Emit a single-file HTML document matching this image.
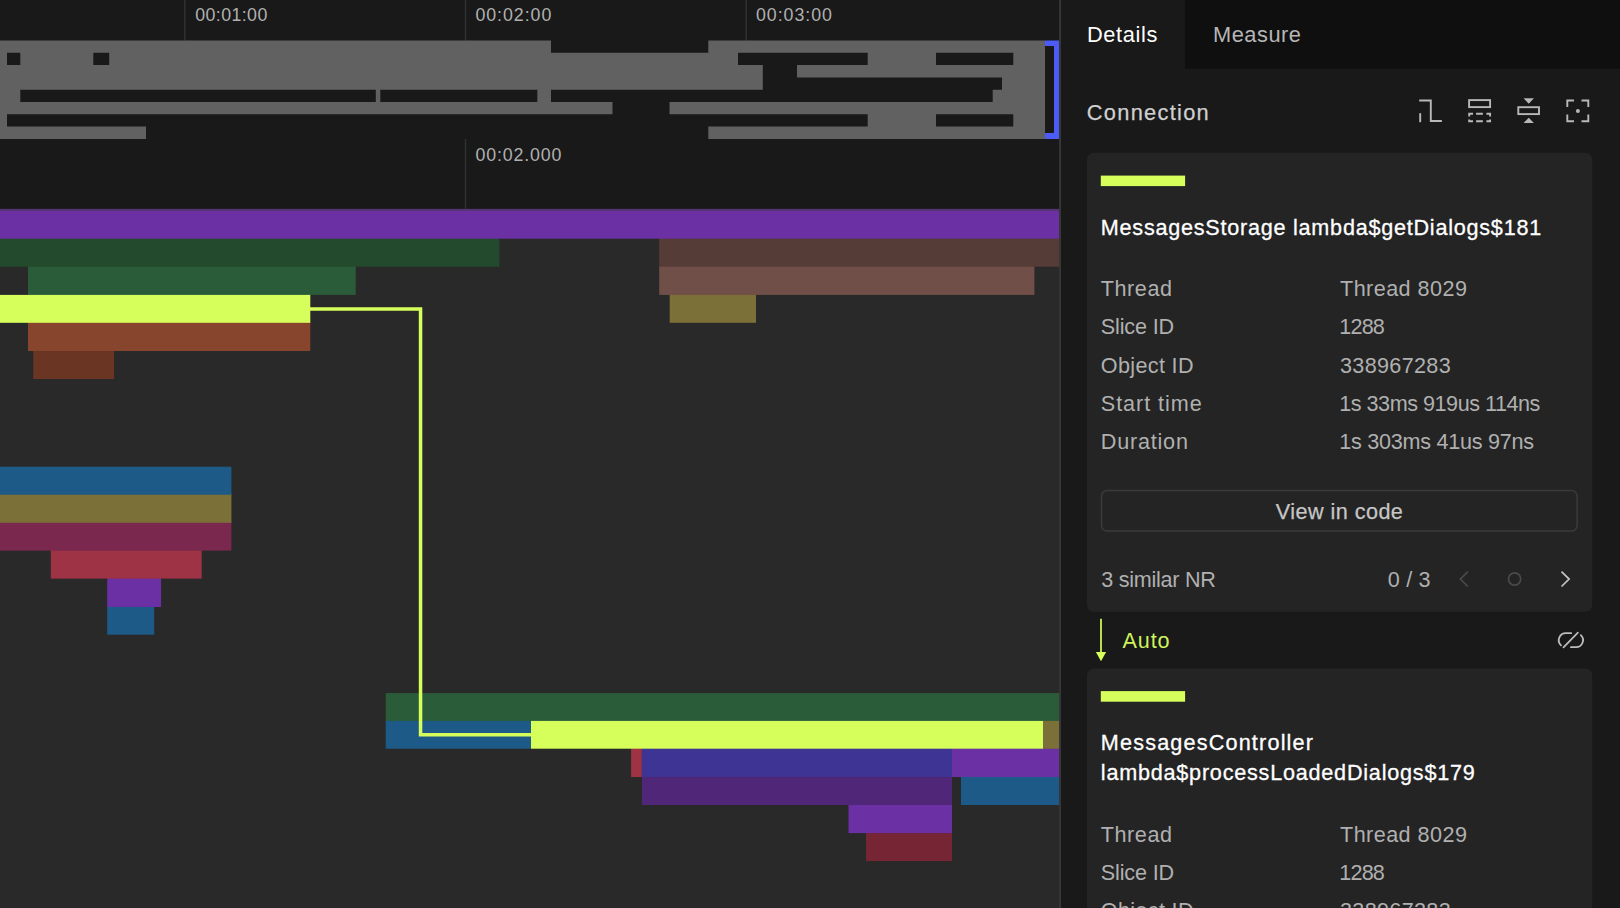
<!DOCTYPE html>
<html lang="en"><head><meta charset="utf-8"><title>Trace viewer</title>
<style>
html,body{margin:0;padding:0;background:#191919}
body{width:1620px;height:908px;overflow:hidden;position:relative;font-family:"Liberation Sans", sans-serif}
.bg{position:absolute;left:0;top:0;display:block}
.tx{position:absolute;white-space:pre;font-weight:400;line-height:30px}
.ic{position:absolute;display:block;overflow:visible}
</style></head><body>
<svg class="bg" width="1620" height="908" viewBox="0 0 1620 908">
<!-- timeline backgrounds -->
<rect x="0.00" y="0.00" width="1059.60" height="208.90" fill="#191919"/>
<rect x="0.00" y="208.90" width="1059.60" height="699.10" fill="#292929"/>
<!-- ruler ticks -->
<rect x="184.10" y="0.00" width="1.40" height="40.50" fill="#323232"/>
<rect x="464.80" y="0.00" width="1.40" height="40.50" fill="#323232"/>
<rect x="745.50" y="0.00" width="1.40" height="40.50" fill="#323232"/>
<rect x="464.80" y="139.00" width="1.40" height="69.90" fill="#323232"/>
<!-- minimap -->
<path d="M0 40.5H551V52.8H0ZM708.3 40.5H1045V52.8H708.3ZM0 52.8H7V65.1H0ZM20.3 52.8H93.3V65.1H20.3ZM109.2 52.8H738V65.1H109.2ZM867.7 52.8H936V65.1H867.7ZM1013.3 52.8H1045V65.1H1013.3ZM0 65.1H762.8V77.4H0ZM797 65.1H1045V77.4H797ZM0 77.4H762.8V89.7H0ZM1002 77.4H1045V89.7H1002ZM0 89.7H20.3V102H0ZM375.8 89.7H380.3V102H375.8ZM537.3 89.7H551V102H537.3ZM992.7 89.7H1045V102H992.7ZM0 102H612.5V114.3H0ZM669.5 102H1045V114.3H669.5ZM0 114.3H7V126.6H0ZM867.7 114.3H936V126.6H867.7ZM1013.3 114.3H1045V126.6H1013.3ZM0 126.6H146V138.9H0ZM708.3 126.6H1045V138.9H708.3Z" fill="#616161"/>
<!-- minimap selection bracket -->
<path d="M1045 40.5H1059.1V139.1H1045V133.1H1054V46.1H1045Z" fill="#4d5bf6"/>
<!-- flame chart -->
<rect x="33.30" y="351.00" width="80.70" height="28.00" fill="#6b3524"/>
<rect x="33.30" y="350.00" width="80.70" height="1.20" fill="#6b3524"/>
<rect x="28.00" y="322.80" width="282.30" height="28.20" fill="#87452d"/>
<rect x="28.00" y="321.80" width="282.30" height="1.20" fill="#87452d"/>
<rect x="0.00" y="294.90" width="310.30" height="27.90" fill="#d6ff5c"/>
<rect x="28.00" y="293.90" width="282.30" height="1.20" fill="#d6ff5c"/>
<rect x="669.70" y="294.90" width="86.30" height="27.90" fill="#7a7038"/>
<rect x="669.70" y="293.90" width="86.30" height="1.20" fill="#7a7038"/>
<rect x="28.00" y="266.70" width="327.70" height="28.20" fill="#2b5c3a"/>
<rect x="28.00" y="265.70" width="327.70" height="1.20" fill="#2b5c3a"/>
<rect x="659.20" y="266.70" width="375.20" height="28.20" fill="#704f48"/>
<rect x="659.20" y="265.70" width="375.20" height="1.20" fill="#704f48"/>
<rect x="0.00" y="238.70" width="499.30" height="28.00" fill="#244a2e"/>
<rect x="0.00" y="237.70" width="499.30" height="1.20" fill="#244a2e"/>
<rect x="659.20" y="238.70" width="400.40" height="28.00" fill="#553c36"/>
<rect x="659.20" y="237.70" width="400.40" height="1.20" fill="#553c36"/>
<rect x="0.00" y="208.90" width="1059.60" height="29.80" fill="#6b30a3"/>
<rect x="107.20" y="607.00" width="47.00" height="27.70" fill="#1d5a87"/>
<rect x="107.20" y="606.00" width="47.00" height="1.20" fill="#1d5a87"/>
<rect x="107.20" y="578.60" width="53.90" height="28.40" fill="#6b30a3"/>
<rect x="107.20" y="577.60" width="53.90" height="1.20" fill="#6b30a3"/>
<rect x="50.80" y="550.60" width="150.90" height="28.00" fill="#9e3345"/>
<rect x="50.80" y="549.60" width="150.90" height="1.20" fill="#9e3345"/>
<rect x="0.00" y="522.80" width="231.40" height="27.80" fill="#7b284e"/>
<rect x="0.00" y="521.80" width="231.40" height="1.20" fill="#7b284e"/>
<rect x="0.00" y="494.70" width="231.40" height="28.10" fill="#7a7038"/>
<rect x="0.00" y="493.70" width="231.40" height="1.20" fill="#7a7038"/>
<rect x="0.00" y="466.70" width="231.40" height="28.00" fill="#1d5a87"/>
<rect x="866.00" y="833.10" width="86.00" height="28.00" fill="#752534"/>
<rect x="866.00" y="832.10" width="86.00" height="1.20" fill="#752534"/>
<rect x="848.50" y="805.00" width="103.50" height="28.10" fill="#6b30a3"/>
<rect x="848.50" y="804.00" width="103.50" height="1.20" fill="#6b30a3"/>
<rect x="641.90" y="777.00" width="310.10" height="28.00" fill="#4f2678"/>
<rect x="641.90" y="776.00" width="310.10" height="1.20" fill="#4f2678"/>
<rect x="961.00" y="777.00" width="98.60" height="28.00" fill="#1d5a87"/>
<rect x="961.00" y="776.00" width="98.60" height="1.20" fill="#1d5a87"/>
<rect x="631.10" y="748.70" width="10.80" height="28.30" fill="#9e3345"/>
<rect x="631.10" y="747.70" width="10.80" height="1.20" fill="#9e3345"/>
<rect x="641.90" y="748.70" width="310.10" height="28.30" fill="#3e3494"/>
<rect x="641.90" y="747.70" width="310.10" height="1.20" fill="#3e3494"/>
<rect x="952.00" y="748.70" width="107.60" height="28.30" fill="#6b30a3"/>
<rect x="952.00" y="747.70" width="91.00" height="1.20" fill="#6b30a3"/>
<rect x="1043.00" y="747.70" width="16.60" height="1.20" fill="#6b30a3"/>
<rect x="385.70" y="720.90" width="145.30" height="27.80" fill="#1d5a87"/>
<rect x="385.70" y="719.90" width="145.30" height="1.20" fill="#1d5a87"/>
<rect x="531.00" y="720.90" width="512.00" height="27.80" fill="#d6ff5c"/>
<rect x="531.00" y="719.90" width="512.00" height="1.20" fill="#d6ff5c"/>
<rect x="1043.00" y="720.90" width="16.60" height="27.80" fill="#7a7038"/>
<rect x="1043.00" y="719.90" width="16.60" height="1.20" fill="#7a7038"/>
<rect x="385.70" y="693.10" width="673.90" height="27.80" fill="#2b5c3a"/>
<!-- connection line -->
<path d="M310 309.1 H420.55 V734.8 H531.5" fill="none" stroke="#d6ff5c" stroke-width="3.5"/>
<!-- borders -->
<rect x="0.00" y="208.90" width="1059.60" height="2.00" fill="#3c3c3c" opacity="0.5"/>
<rect x="1059.10" y="0.00" width="1.90" height="908.00" fill="#373737"/>
<!-- details panel -->
<rect x="1061.00" y="0.00" width="559.00" height="908.00" fill="#191919"/>
<rect x="1184.80" y="0.00" width="435.20" height="68.60" fill="#0f0f0f"/>
<rect x="1087" y="152.8" width="505.3" height="458.9" rx="7" fill="#242424"/>
<rect x="1087" y="668.5" width="505.3" height="260" rx="7" fill="#242424"/>
<rect x="1100.80" y="175.60" width="84.30" height="10.50" fill="#d6ff5c"/>
<rect x="1100.80" y="691.10" width="84.30" height="10.60" fill="#d6ff5c"/>
<rect x="1101.5" y="490.6" width="475.6" height="40.5" rx="5.5" fill="none" stroke="#3b3b3b" stroke-width="1.5"/>
</svg>
<svg class="ic" style="left:1410px;top:90px" width="200" height="40" viewBox="1410 90 200 40" fill="none" stroke="#b8b8b8" stroke-width="1.9">
<path d="M1419.2 100.5 H1430.8 V121 H1441.9"/><path d="M1420.2 113.2 V122.2"/>
<rect x="1469.1" y="100.1" width="21" height="7"/>
<path d="M1469.2 116.4 V113.8 H1473 M1486.4 113.8 H1490.1 V116.4 M1469.2 119.5 V121.3 H1473 M1486.4 121.3 H1490.1 V119.5 M1476.1 113.8 H1482.9 M1476.1 121.3 H1482.9"/>
<rect x="1518.3" y="107.2" width="20.7" height="6.9"/>
<path d="M1523.6 98.2 h10.3 l-5.15 5.6z M1523.6 123 h10.3 l-5.15 -5.2z" fill="#b8b8b8" stroke="none"/>
<path d="M1567.3 107 V100.5 H1574 M1581.5 100.5 H1588.3 V107 M1588.3 114.4 V121.2 H1581.5 M1574 121.2 H1567.3 V114.4"/>
<circle cx="1577.9" cy="110.9" r="2" fill="#b8b8b8" stroke="none"/>
</svg>
<svg class="ic" style="left:1450px;top:565px" width="140" height="30" viewBox="1450 565 140 30" fill="none" stroke-width="1.7">
<path d="M1467.9 571.7 L1460.3 579.1 L1467.9 586.5" stroke="#4a4a4a"/>
<circle cx="1514.6" cy="579.0" r="6.1" stroke="#4a4a4a"/>
<path d="M1561.5 571.7 L1569.1 579.1 L1561.5 586.5" stroke="#c4c4c4"/>
</svg>
<svg class="ic" style="left:1090px;top:615px" width="24" height="50" viewBox="1090 615 24 50">
<path d="M1101 618.8 V654" stroke="#d6ff5c" stroke-width="1.7" fill="none"/>
<path d="M1095.9 651.9 H1106.1 L1101 661.3z" fill="#d6ff5c"/>
</svg>
<svg class="ic" style="left:1550px;top:625px" width="44" height="30" viewBox="1550 625 44 30" fill="none" stroke="#bcbcbc" stroke-width="1.8" stroke-linecap="round">
<path d="M1571.2 633.2 H1565.8 A7 7 0 0 0 1561 645.3"/>
<path d="M1570.9 647.2 H1576 A7 7 0 0 0 1580.8 635.1"/>
<path d="M1577.9 632.7 L1563.5 647.3"/>
</svg>
<span class="tx" style="left:195.20px;top:0px;font-size:17.8px;letter-spacing:0.412px;color:#b0b0b0;">00:01:00</span>
<span class="tx" style="left:475.40px;top:0px;font-size:17.8px;letter-spacing:0.954px;color:#b0b0b0;">00:02:00</span>
<span class="tx" style="left:756.00px;top:0px;font-size:17.8px;letter-spacing:0.954px;color:#b0b0b0;">00:03:00</span>
<span class="tx" style="left:475.50px;top:140px;font-size:17.8px;letter-spacing:0.849px;color:#b0b0b0;">00:02.000</span>
<span class="tx" style="left:1087.00px;top:20px;font-size:21.8px;letter-spacing:0.627px;color:#ffffff;">Details</span>
<span class="tx" style="left:1213.00px;top:20px;font-size:21.8px;letter-spacing:0.531px;color:#b6b6b6;">Measure</span>
<span class="tx" style="left:1086.80px;top:98px;font-size:21.8px;letter-spacing:1.291px;color:#d0d0d0;-webkit-text-stroke:0.25px #d0d0d0;">Connection</span>
<span class="tx" style="left:1100.80px;top:213px;font-size:21.6px;letter-spacing:0.762px;color:#ffffff;-webkit-text-stroke:0.3px #fff;">MessagesStorage lambda$getDialogs$181</span>
<span class="tx" style="left:1100.80px;top:274px;font-size:21.6px;letter-spacing:0.556px;color:#b0b0b0;">Thread</span>
<span class="tx" style="left:1340.00px;top:274px;font-size:21.6px;letter-spacing:0.443px;color:#b0b0b0;">Thread 8029</span>
<span class="tx" style="left:1100.80px;top:312px;font-size:21.6px;letter-spacing:-0.158px;color:#b0b0b0;">Slice ID</span>
<span class="tx" style="left:1339.20px;top:312px;font-size:21.6px;letter-spacing:-0.782px;color:#b0b0b0;">1288</span>
<span class="tx" style="left:1100.80px;top:351px;font-size:21.6px;letter-spacing:0.336px;color:#b0b0b0;">Object ID</span>
<span class="tx" style="left:1340.00px;top:351px;font-size:21.6px;letter-spacing:0.326px;color:#b0b0b0;">338967283</span>
<span class="tx" style="left:1100.80px;top:389px;font-size:21.6px;letter-spacing:0.944px;color:#b0b0b0;">Start time</span>
<span class="tx" style="left:1339.20px;top:389px;font-size:21.6px;letter-spacing:-0.472px;color:#b0b0b0;">1s 33ms 919us 114ns</span>
<span class="tx" style="left:1100.80px;top:427px;font-size:21.6px;letter-spacing:0.782px;color:#b0b0b0;">Duration</span>
<span class="tx" style="left:1339.20px;top:427px;font-size:21.6px;letter-spacing:-0.252px;color:#b0b0b0;">1s 303ms 41us 97ns</span>
<span class="tx" style="left:1275.70px;top:497px;font-size:21.6px;letter-spacing:0.468px;color:#c6c6c6;-webkit-text-stroke:0.25px #c6c6c6;">View in code</span>
<span class="tx" style="left:1101.20px;top:565px;font-size:21.6px;letter-spacing:-0.262px;color:#b0b0b0;">3 similar NR</span>
<span class="tx" style="left:1387.70px;top:565px;font-size:21.6px;letter-spacing:0.217px;color:#b0b0b0;">0 / 3</span>
<span class="tx" style="left:1122.60px;top:626px;font-size:21.6px;letter-spacing:0.826px;color:#cff35c;">Auto</span>
<span class="tx" style="left:1100.80px;top:728px;font-size:21.6px;letter-spacing:1.186px;color:#ffffff;-webkit-text-stroke:0.3px #fff;">MessagesController</span>
<span class="tx" style="left:1100.80px;top:758px;font-size:21.6px;letter-spacing:0.781px;color:#ffffff;-webkit-text-stroke:0.3px #fff;">lambda$processLoadedDialogs$179</span>
<span class="tx" style="left:1100.80px;top:820px;font-size:21.6px;letter-spacing:0.556px;color:#b0b0b0;">Thread</span>
<span class="tx" style="left:1340.00px;top:820px;font-size:21.6px;letter-spacing:0.443px;color:#b0b0b0;">Thread 8029</span>
<span class="tx" style="left:1100.80px;top:858px;font-size:21.6px;letter-spacing:-0.158px;color:#b0b0b0;">Slice ID</span>
<span class="tx" style="left:1339.20px;top:858px;font-size:21.6px;letter-spacing:-0.782px;color:#b0b0b0;">1288</span>
<span class="tx" style="left:1100.80px;top:896px;font-size:21.6px;letter-spacing:0.336px;color:#b0b0b0;">Object ID</span>
<span class="tx" style="left:1340.00px;top:896px;font-size:21.6px;letter-spacing:0.326px;color:#b0b0b0;">338967283</span>
</body></html>
